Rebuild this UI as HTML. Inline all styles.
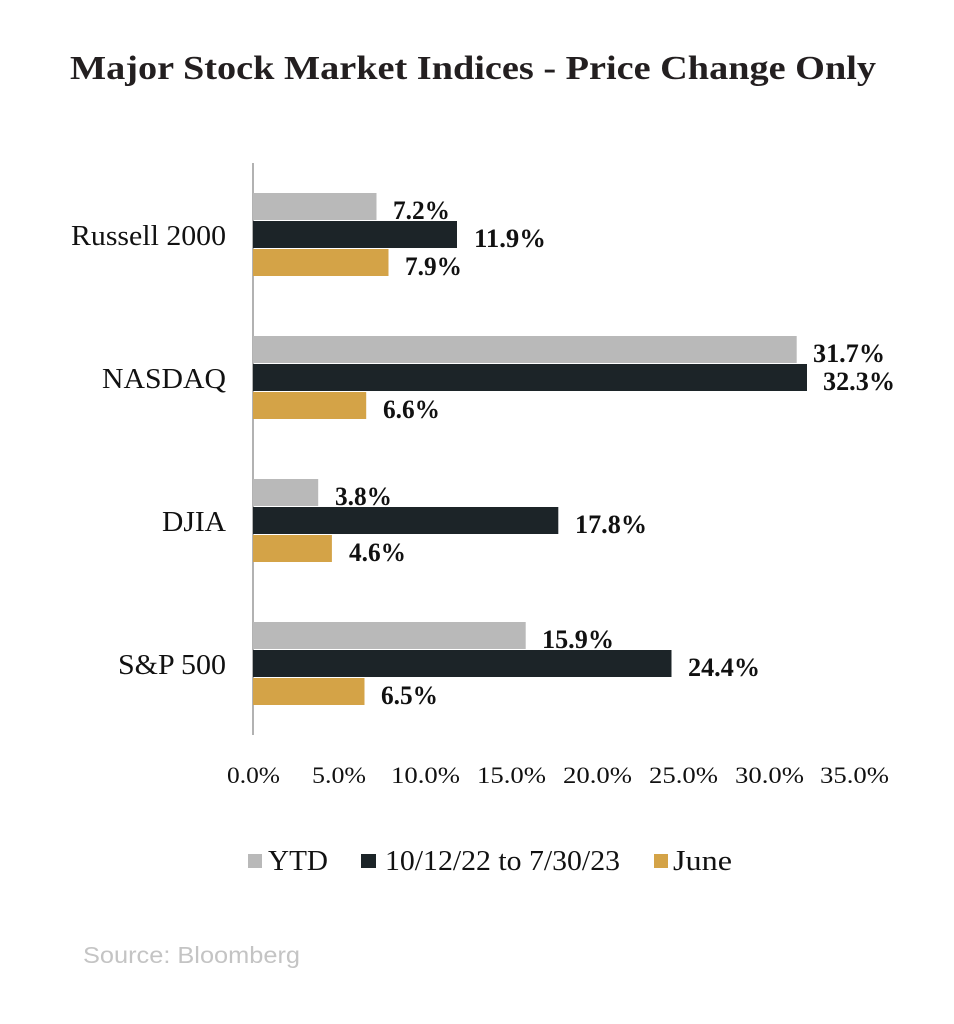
<!DOCTYPE html>
<html><head><meta charset="utf-8"><style>body{margin:0;background:#fff}svg{display:block}</style></head>
<body>
<svg width="954" height="1024" xmlns="http://www.w3.org/2000/svg" font-family="Liberation Serif, serif">
<text x="70" y="79" textLength="806" lengthAdjust="spacingAndGlyphs" font-size="34" font-weight="bold" fill="#231f20">Major Stock Market Indices - Price Change Only</text>
<line x1="253" y1="163" x2="253" y2="735" stroke="#999" stroke-width="1.5"/>
<g font-size="28" fill="#111">
<text x="71" y="245" textLength="155" lengthAdjust="spacingAndGlyphs">Russell 2000</text>
<text x="102" y="388" textLength="124" lengthAdjust="spacingAndGlyphs">NASDAQ</text>
<text x="162" y="531" textLength="64" lengthAdjust="spacingAndGlyphs">DJIA</text>
<text x="118" y="674" textLength="108" lengthAdjust="spacingAndGlyphs">S&amp;P 500</text>
</g>
<g>
<rect x="253" y="193" width="123.5" height="27" fill="#b9b9b9"/>
<rect x="253" y="221" width="204" height="27" fill="#1c2428"/>
<rect x="253" y="249" width="135.5" height="27" fill="#d4a347"/>
<rect x="253" y="336" width="543.7" height="27" fill="#b9b9b9"/>
<rect x="253" y="364" width="554" height="27" fill="#1c2428"/>
<rect x="253" y="392" width="113.2" height="27" fill="#d4a347"/>
<rect x="253" y="479" width="65.2" height="27" fill="#b9b9b9"/>
<rect x="253" y="507" width="305.3" height="27" fill="#1c2428"/>
<rect x="253" y="535" width="78.9" height="27" fill="#d4a347"/>
<rect x="253" y="622" width="272.7" height="27" fill="#b9b9b9"/>
<rect x="253" y="650" width="418.5" height="27" fill="#1c2428"/>
<rect x="253" y="678" width="111.5" height="27" fill="#d4a347"/>
</g>
<g font-size="26" font-weight="bold" fill="#111">
<text x="393" y="219" textLength="57" lengthAdjust="spacingAndGlyphs">7.2%</text>
<text x="474" y="247" textLength="72" lengthAdjust="spacingAndGlyphs">11.9%</text>
<text x="405" y="275" textLength="57" lengthAdjust="spacingAndGlyphs">7.9%</text>
<text x="813" y="362" textLength="72" lengthAdjust="spacingAndGlyphs">31.7%</text>
<text x="823" y="390" textLength="72" lengthAdjust="spacingAndGlyphs">32.3%</text>
<text x="383" y="418" textLength="57" lengthAdjust="spacingAndGlyphs">6.6%</text>
<text x="335" y="505" textLength="57" lengthAdjust="spacingAndGlyphs">3.8%</text>
<text x="575" y="533" textLength="72" lengthAdjust="spacingAndGlyphs">17.8%</text>
<text x="349" y="561" textLength="57" lengthAdjust="spacingAndGlyphs">4.6%</text>
<text x="542" y="648" textLength="72" lengthAdjust="spacingAndGlyphs">15.9%</text>
<text x="688" y="676" textLength="72" lengthAdjust="spacingAndGlyphs">24.4%</text>
<text x="381" y="704" textLength="57" lengthAdjust="spacingAndGlyphs">6.5%</text>
</g>
<g font-size="23" fill="#111">
<text x="227" y="783" textLength="53" lengthAdjust="spacingAndGlyphs">0.0%</text>
<text x="312" y="783" textLength="54" lengthAdjust="spacingAndGlyphs">5.0%</text>
<text x="391" y="783" textLength="69" lengthAdjust="spacingAndGlyphs">10.0%</text>
<text x="477" y="783" textLength="69" lengthAdjust="spacingAndGlyphs">15.0%</text>
<text x="563" y="783" textLength="69" lengthAdjust="spacingAndGlyphs">20.0%</text>
<text x="649" y="783" textLength="69" lengthAdjust="spacingAndGlyphs">25.0%</text>
<text x="735" y="783" textLength="69" lengthAdjust="spacingAndGlyphs">30.0%</text>
<text x="820" y="783" textLength="69" lengthAdjust="spacingAndGlyphs">35.0%</text>
</g>
<g font-size="29" fill="#111">
<rect x="248" y="854" width="14" height="14" fill="#b9b9b9"/>
<text x="268" y="870" textLength="60" lengthAdjust="spacingAndGlyphs">YTD</text>
<rect x="361" y="854" width="15" height="14" fill="#1c2428"/>
<text x="385" y="870" textLength="235" lengthAdjust="spacingAndGlyphs">10/12/22 to 7/30/23</text>
<rect x="654" y="854" width="14" height="14" fill="#d4a347"/>
<text x="673" y="870" textLength="59" lengthAdjust="spacingAndGlyphs">June</text>
</g>
<text x="83" y="963" textLength="217" lengthAdjust="spacingAndGlyphs" font-family="Liberation Sans, sans-serif" font-size="23" fill="#c4c4c4">Source: Bloomberg</text>
</svg>
</body></html>
